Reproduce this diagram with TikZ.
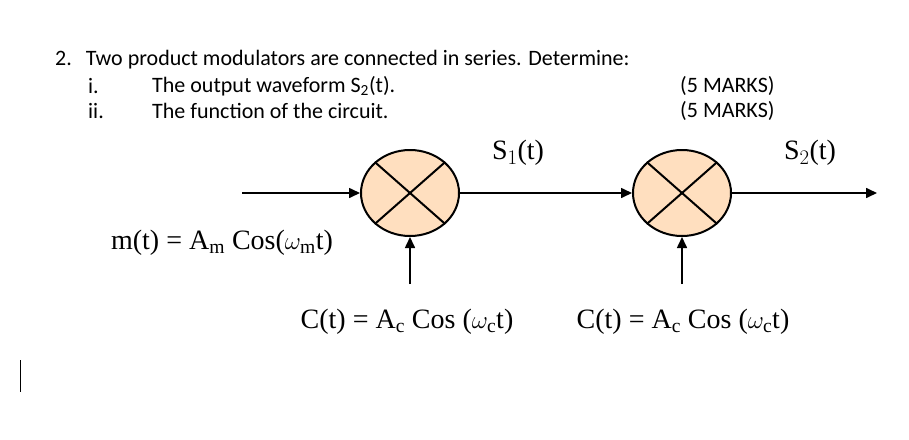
\documentclass[tikz,border=0pt]{standalone}
\usepackage{fontspec}
\setmainfont{Liberation Serif}
\newfontfamily\hdr{Carlito}
\usetikzlibrary{arrows.meta,shapes.geometric}
\begin{document}
\begin{tikzpicture}[x=1pt,y=-1pt,
  mixer/.style={draw,line width=2pt,fill=orange!25,ellipse,minimum width=98pt,minimum height=86pt,inner sep=0pt},
  sig/.style={line width=1.6pt,-{Triangle[length=11pt,width=10pt]}},
  ht/.style={font=\hdr\fontsize{22}{25}\selectfont,anchor=west,inner sep=0pt},
  dl/.style={font=\fontsize{28}{32}\selectfont,inner sep=0pt}]
\useasboundingbox (0,0) rectangle (909,439);
\node[ht] (h1) at (55,60) {2.\hspace{14pt}Two product modulators are connected in series. Determine:};
\node[ht] (h2) at (88,86) {i.};
\node[ht] (h3) at (152,86) {The output waveform S\textsubscript{2}(t).};
\node[ht] (h4) at (680,86) {(5 MARKS)};
\node[ht] (h5) at (88,111) {ii.};
\node[ht] (h6) at (152,111) {The function of the circuit.};
\node[ht] (h7) at (680,111) {(5 MARKS)};
\node[mixer] (m1) at (410,193) {};
\node[mixer] (m2) at (682,193) {};
\draw[line width=2pt] (m1.north west) -- (m1.south east) (m1.north east) -- (m1.south west);
\draw[line width=2pt] (m2.north west) -- (m2.south east) (m2.north east) -- (m2.south west);
\coordinate (in) at (242,193);
\coordinate (out) at (877,193);
\coordinate (c1) at (410,284);
\coordinate (c2) at (682,284);
\draw[sig] (in) -- (m1.west);
\draw[sig] (m1.east) -- (m2.west);
\draw[sig] (m2.east) -- (out);
\draw[sig] (c1) -- (m1.south);
\draw[sig] (c2) -- (m2.south);
\node[dl] (s1) at (518,153) {S$_1$(t)};
\node[dl] (s2) at (810,153) {S$_2$(t)};
\node[dl] (mt) at (222,243) {m(t) = A$_\mathrm{m}$ Cos($\omega_\mathrm{m}$t)};
\node[dl] (ct1) at (407,322) {C(t) = A$_\mathrm{c}$ Cos ($\omega_\mathrm{c}$t)};
\node[dl] (ct2) at (683,322) {C(t) = A$_\mathrm{c}$ Cos ($\omega_\mathrm{c}$t)};
\draw[line width=0.8pt] (20,360) -- (20,392);
\end{tikzpicture}
\end{document}
